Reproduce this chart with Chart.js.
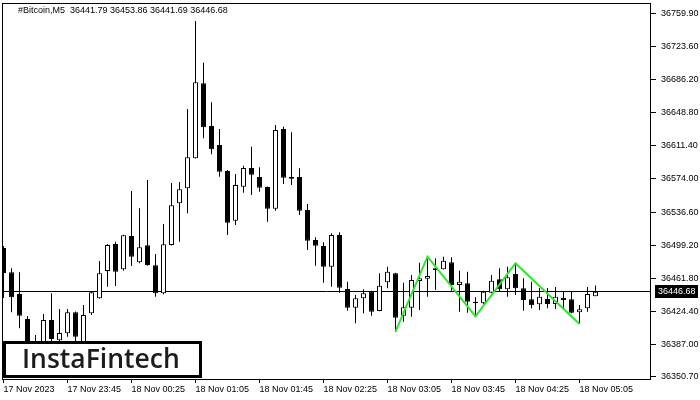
<!DOCTYPE html>
<html>
<head>
<meta charset="utf-8">
<script src="https://cdn.jsdelivr.net/npm/chart.js@4.4.0/dist/chart.umd.min.js"></script>
<style>
html,body{margin:0;padding:0;background:#fff;}
#wrap{width:700px;height:400px;}
</style>
</head>
<body>
<div id="wrap"><canvas id="chart" width="700" height="400"></canvas></div>
<script>
// M5 candles, 17 Nov 23:05 .. 18 Nov 05:15
const opens = [36496.1,36468.7,36444.3,36416.1,36379.0,36386.0,36415.0,36392.0,36399.9,36423.6,
  36388.0,36422.5,36439.4,36470.2,36500.6,36472.1,36509.6,36480.0,36499.1,36476.6,
  36445.0,36499.5,36546.5,36563.4,36597.2,36681.8,36633.6,36612.2,36582.9,36526.9,
  36565.2,36586.3,36576.2,36564.9,36540.4,36630.3,36576.2,36576.2,36539.0,36505.1,
  36498.4,36475.1,36510.8,36449.9,36428.8,36439.4,36446.9,36425.1,36457.5,36467.6,
  36419.8,36428.8,36459.0,36461.5,36473.2,36472.1,36480.0,36454.4,36456.3,36435.6,
  36433.8,36445.7,36460.8,36449.5,36466.8,36450.7,36438.3,36432.6,36438.6,36433.0,
  36440.0,36438.3,36423.6,36428.1,36441.79];
const highs = [36498.4,36473.2,36468.7,36419.4,36398.0,36421.7,36445.0,36427.4,36427.4,36424.5,
  36431.9,36446.5,36481.5,36500.6,36503.2,36511.0,36560.4,36540.9,36572.8,36489.3,
  36523.2,36569.4,36570.5,36652.8,36752.0,36705.0,36660.4,36630.3,36584.0,36579.5,
  36588.9,36610.3,36587.1,36565.5,36634.8,36632.9,36626.5,36586.0,36545.7,36508.2,
  36502.5,36512.7,36513.8,36458.1,36443.1,36449.5,36448.0,36467.6,36475.1,36468.2,
  36457.0,36465.7,36479.5,36486.3,36484.5,36486.3,36485.6,36470.5,36469.4,36440.5,
  36448.0,36465.7,36473.2,36475.1,36478.9,36462.0,36458.1,36451.0,36451.0,36452.1,
  36446.9,36446.9,36431.9,36452.1,36453.86];
const lows = [36439.8,36423.6,36405.6,36370.0,36366.0,36378.0,36388.0,36384.0,36396.0,36389.0,
  36382.0,36420.6,36439.0,36452.5,36453.3,36470.5,36475.8,36479.0,36476.0,36441.2,
  36443.9,36499.0,36503.2,36535.2,36597.0,36619.8,36601.7,36576.5,36510.8,36522.0,
  36558.5,36555.9,36559.6,36525.8,36538.2,36568.3,36567.1,36533.3,36493.9,36476.2,
  36457.0,36452.5,36445.7,36425.4,36411.2,36422.5,36419.8,36424.8,36450.7,36401.8,
  36413.0,36418.7,36426.2,36441.2,36448.8,36471.8,36448.0,36424.3,36423.2,36419.0,
  36432.5,36445.0,36447.6,36441.2,36443.1,36425.4,36428.1,36426.2,36428.1,36427.3,
  36426.2,36422.5,36410.5,36424.3,36441.69];
const closes = [36467.9,36440.6,36419.8,36381.0,36387.0,36415.0,36393.5,36400.3,36423.6,36396.0,
  36420.6,36446.2,36467.6,36499.5,36469.4,36510.4,36486.3,36496.9,36476.9,36445.0,
  36500.2,36544.2,36562.3,36598.4,36682.9,36632.2,36607.4,36582.1,36524.6,36567.1,
  36586.3,36578.8,36564.1,36540.4,36629.1,36575.4,36574.2,36538.2,36504.3,36498.7,
  36475.1,36510.8,36451.4,36428.8,36439.4,36445.0,36424.3,36453.6,36469.4,36417.5,
  36429.2,36460.0,36462.0,36464.6,36471.3,36481.8,36454.4,36458.1,36435.6,36433.8,
  36446.9,36459.3,36449.5,36463.1,36450.7,36437.5,36431.5,36441.2,36432.9,36441.2,
  36437.5,36423.2,36427.0,36444.3,36446.68];

const tickIdx = [0,8,16,24,32,40,48,56,64,72];
const timeLabels = ['17 Nov 2023','17 Nov 23:45','18 Nov 00:25','18 Nov 01:05','18 Nov 01:45',
  '18 Nov 02:25','18 Nov 03:05','18 Nov 03:45','18 Nov 04:25','18 Nov 05:05'];
const priceTicks = [36350.70,36387.00,36424.40,36461.80,36499.20,36536.60,36574.00,36611.40,36648.80,36686.20,36723.60,36759.90];

// triple bottom outline
const patternIdx = [49,53,59,64,72];
const patternPrices = [36401.8,36486.3,36419.0,36478.9,36410.5];

const symbol = '#Bitcoin,M5';
const FONT = '"Liberation Sans", Arial, sans-serif';

Chart.defaults.font.family = FONT;
Chart.defaults.font.size = 9;
Chart.defaults.color = '#000';

const last = closes.length - 1;
const bodies = opens.map((o, i) => ({x: i, y: [o, closes[i]]}));
const wicks = lows.map((l, i) => ({x: i, y: [l, highs[i]]}));
const bodyFill = opens.map((o, i) => closes[i] >= o ? '#ffffff' : '#000000');

const overlay = {
    id: 'overlay',
    beforeDatasetsDraw(chart){
        const {ctx, chartArea: a, scales: {y}} = chart;
        const py = Math.floor(y.getPixelForValue(closes[last])) + 0.5;
        ctx.save();
        ctx.strokeStyle = '#000';
        ctx.lineWidth = 1;
        ctx.beginPath();
        ctx.moveTo(a.left, py);
        ctx.lineTo(a.right, py);
        ctx.stroke();
        ctx.restore();
    },
    afterDraw(chart){
        const {ctx, chartArea: a, scales: {y}} = chart;
        ctx.save();
        // frame
        ctx.strokeStyle = '#000';
        ctx.lineWidth = 1;
        ctx.strokeRect(a.left + 0.5, a.top + 0.5, a.right - a.left - 1, a.bottom - a.top - 1);

        // header
        ctx.fillStyle = '#000';
        ctx.font = '9px ' + FONT;
        ctx.textBaseline = 'middle';
        ctx.textAlign = 'left';
        ctx.fillText(symbol + '  ' + [opens[last], highs[last], lows[last], closes[last]].map(v => v.toFixed(2)).join(' '), 18, 11);

        // current price tag
        const py = Math.floor(y.getPixelForValue(closes[last]));
        ctx.fillStyle = '#000';
        ctx.fillRect(655, py - 6, 43, 13);
        ctx.fillStyle = '#fff';
        ctx.fillText(closes[last].toFixed(2), 658, py + 1);

        // logo
        ctx.fillStyle = '#fff';
        ctx.fillRect(3, 341, 199, 37);
        ctx.strokeStyle = '#000';
        ctx.lineWidth = 3;
        ctx.strokeRect(4.5, 342.5, 196, 34);
        let fs = 27;
        ctx.font = '600 ' + fs + 'px "Open Sans", sans-serif';
        const w = ctx.measureText('InstaFintech').width;
        fs = fs * 158 / w;
        ctx.font = '600 ' + fs.toFixed(1) + 'px "Open Sans", sans-serif';
        ctx.fillStyle = '#1c1c1c';
        ctx.textBaseline = 'alphabetic';
        ctx.fillText('InstaFintech', 22, 368);
        ctx.restore();
    }
};

new Chart(document.getElementById('chart').getContext('2d'), {
    type: 'bar',
    data: {
        datasets: [
            {
                type: 'line',
                data: patternIdx.map((x, i) => ({x: x, y: patternPrices[i]})),
                borderColor: '#2ee62e',
                borderWidth: 2,
                pointRadius: 0,
                tension: 0,
                order: 0
            },
            {
                data: bodies,
                backgroundColor: bodyFill,
                borderColor: '#000',
                borderWidth: 1,
                borderSkipped: false,
                barThickness: 5,
                grouped: false,
                inflateAmount: 0,
                order: 1
            },
            {
                data: wicks,
                backgroundColor: '#000',
                borderWidth: 0,
                barThickness: 1,
                grouped: false,
                inflateAmount: 0,
                order: 2
            }
        ]
    },
    options: {
        responsive: false,
        animation: false,
        layout: {padding: {left: 2, top: 3, right: 0, bottom: 0}},
        plugins: {legend: {display: false}, tooltip: {enabled: false}},
        scales: {
            x: {
                type: 'linear',
                min: -0.1875,
                max: 80.9375,
                offset: false,
                afterBuildTicks: s => { s.ticks = tickIdx.map(v => ({value: v})); },
                afterFit: s => { s.height = 20; s.paddingLeft = 0; s.paddingRight = 0; },
                grid: {drawOnChartArea: false, offset: false, tickLength: 3, color: '#000'},
                border: {display: false},
                ticks: {
                    autoSkip: false,
                    maxRotation: 0,
                    align: 'start',
                    padding: 1,
                    callback: v => timeLabels[tickIdx.indexOf(v)]
                }
            },
            y: {
                type: 'linear',
                position: 'right',
                min: 36347.3,
                max: 36772.3,
                afterBuildTicks: s => { s.ticks = priceTicks.map(v => ({value: v})); },
                afterFit: s => { s.width = 49; s.paddingTop = 0; s.paddingBottom = 0; },
                grid: {drawOnChartArea: false, tickLength: 5, color: '#000'},
                border: {display: false},
                ticks: {autoSkip: false, padding: 5, callback: v => v.toFixed(2)}
            }
        }
    },
    plugins: [overlay]
});
</script>
</body>
</html>
